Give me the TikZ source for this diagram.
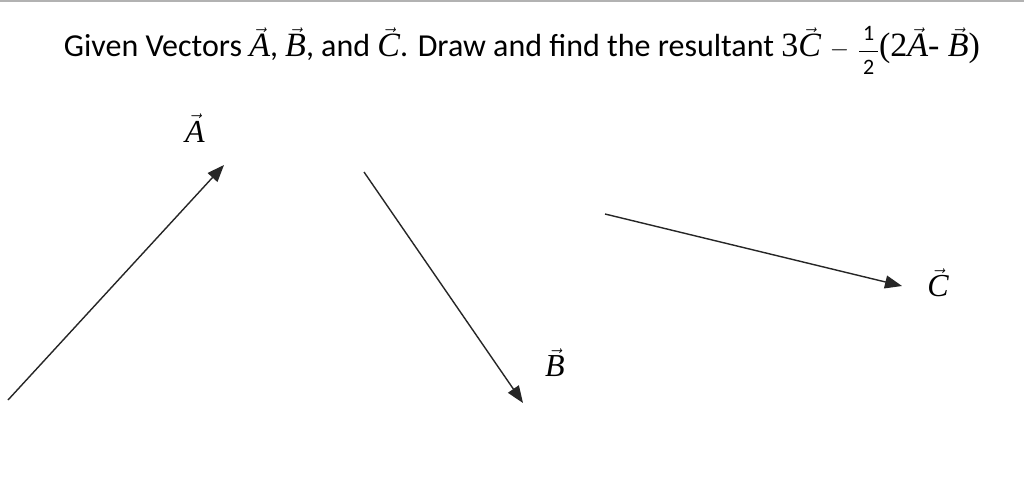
\documentclass[tikz,border=0pt]{standalone}
\usepackage{fontspec}
\setmainfont{Carlito}
\newfontfamily\cambria{Liberation Serif}
\usetikzlibrary{arrows.meta}
\newcommand{\vv}[1]{\ensuremath{\vec{\hbox{\cambria\itshape #1}}}}
\newcommand{\halfrac}{\ensuremath{\displaystyle\frac{\hbox{\fontsize{22}{22}\selectfont\,1\,}}{\hbox{\fontsize{22}{22}\selectfont\,2\,}}}}
\tikzset{
  vecarrow/.style={line width=1.4pt, draw=black!85, -{Triangle[length=17pt,width=13pt]}},
  veclabel/.style={font=\fontsize{32}{34}\selectfont, inner sep=0pt},
}
\begin{document}
\begin{tikzpicture}[x=1pt,y=-1pt]
\useasboundingbox[fill=white] (0,0) rectangle (1024,478);
\draw[line width=2pt, draw=black!30] (0,1) -- (1024,1);
\node[inner sep=0pt, anchor=base, font=\fontsize{32}{34}\selectfont] (title) at (522,57)
  {Given Vectors {\fontsize{34}{34}\selectfont\vv{A}}, {\fontsize{34}{34}\selectfont\vv{B}}, and {\fontsize{34}{34}\selectfont\vv{C}}. Draw and find the resultant {\fontsize{34}{34}\selectfont{\cambria 3}\vv{C}}\;$-$\;\halfrac{\fontsize{34}{34}\selectfont\cambria(2\vv{A}- \vv{B})}};
\coordinate (a0) at (8,400);
\coordinate (a1) at (224,165);
\coordinate (b0) at (364,172);
\coordinate (b1) at (523,403);
\coordinate (c0) at (605,214);
\coordinate (c1) at (902,286);
\draw[vecarrow] (a0) -- (a1);
\draw[vecarrow] (b0) -- (b1);
\draw[vecarrow] (c0) -- (c1);
\node[veclabel] (la) at (195,128) {\vv{A}};
\node[veclabel] (lb) at (555,363) {\vv{B}};
\node[veclabel] (lc) at (938,283) {\vv{C}};
\end{tikzpicture}
\end{document}
